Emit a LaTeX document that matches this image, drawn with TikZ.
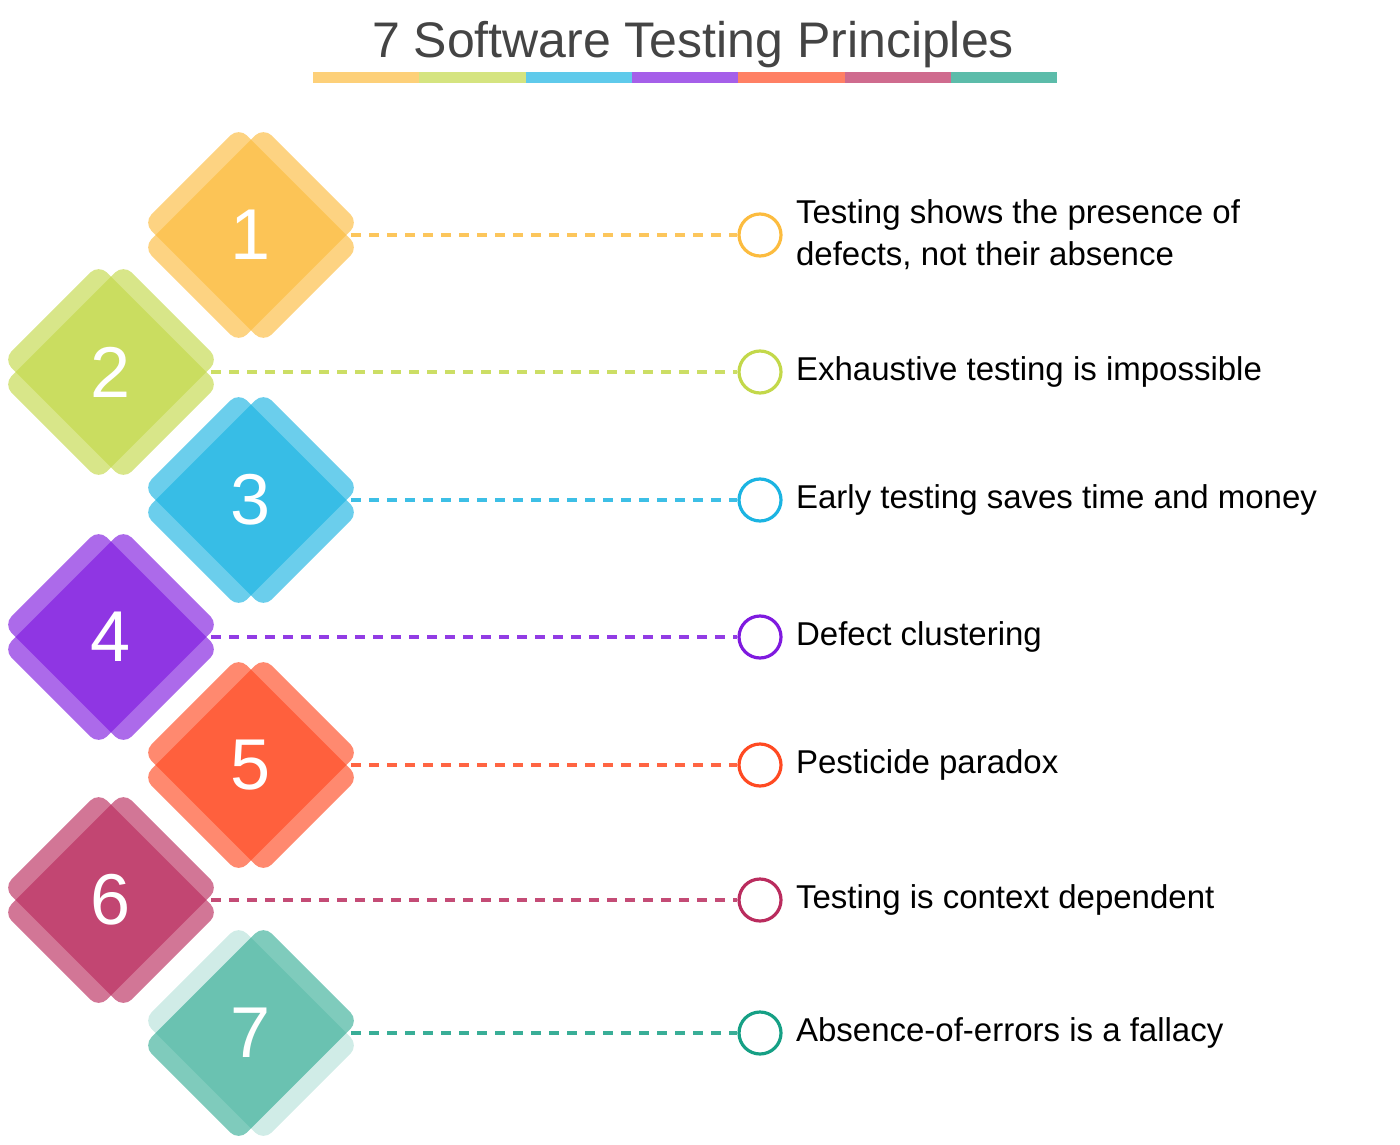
\documentclass[tikz,border=0pt]{standalone}
\usepackage{fontspec}
\setmainfont{Liberation Sans}
\definecolor{cA}{HTML}{FCBC3F}
\definecolor{cB}{HTML}{C3D84A}
\definecolor{cC}{HTML}{1BB4E2}
\definecolor{cD}{HTML}{7F1ADF}
\definecolor{cE}{HTML}{FF4A22}
\definecolor{cF}{HTML}{BA2C5E}
\definecolor{cG}{HTML}{16A085}
\definecolor{tgray}{HTML}{444444}
\tikzset{
  num/.style={text=white,font=\fontsize{36}{40}\selectfont},
  lbl/.style={anchor=west,align=left,font=\fontsize{16.5}{21}\selectfont,text=black},
  dot/.style={circle,draw,line width=1.6pt,fill=white,minimum size=21pt,inner sep=0pt},
  dashln/.style={line width=1.6pt,dash pattern=on 5pt off 4pt},
}
\newcommand{\dia}[5]{% x y color opA opB
  \begin{scope}[shift={(#1,#2)},rotate=-45]
    \fill[#3,opacity=#4,rounded corners=6pt] (-85,-67.5) rectangle (85,67.5);
  \end{scope}
  \begin{scope}[shift={(#1,#2)},rotate=45]
    \fill[#3,opacity=#5,rounded corners=6pt] (-85,-67.5) rectangle (85,67.5);
  \end{scope}}
\begin{document}
\begin{tikzpicture}[x=0.5pt,y=-0.5pt]
\useasboundingbox (0,0) rectangle (1400,1144);
\node[text=tgray,font=\fontsize{25}{30}\selectfont] (title) at (693,45) {7 Software Testing Principles};
\foreach \i/\c in {0/cA,1/cB,2/cC,3/cD,4/cE,5/cF,6/cG}
  \fill[\c!70] (313+\i*106.3,72) rectangle (313+\i*106.3+106.3,83);
\foreach \n/\x/\y/\c/\a/\b/\t in {
 1/251/235/cA/0.65/0.65/{Testing shows the presence of\\defects, not their absence},
 2/111/372/cB/0.65/0.65/{Exhaustive testing is impossible},
 3/251/500/cC/0.65/0.65/{Early testing saves time and money},
 4/111/637/cD/0.65/0.65/{Defect clustering},
 5/251/765/cE/0.65/0.65/{Pesticide paradox},
 6/111/900/cF/0.65/0.65/{Testing is context dependent},
 7/251/1033/cG/0.2/0.55/{Absence-of-errors is a fallacy}}{
  \dia{\x}{\y}{\c}{\a}{\b}
  \node[num] (d\n) at (\x,\y) {\n};
  \node[dot,draw=\c] (c\n) at (760,\y) {};
  \draw[dashln,\c!85] ([xshift=50pt]d\n.center) -- (c\n);
  \node[lbl] (t\n) at (789,\y) {\t};
}
\end{tikzpicture}
\end{document}
